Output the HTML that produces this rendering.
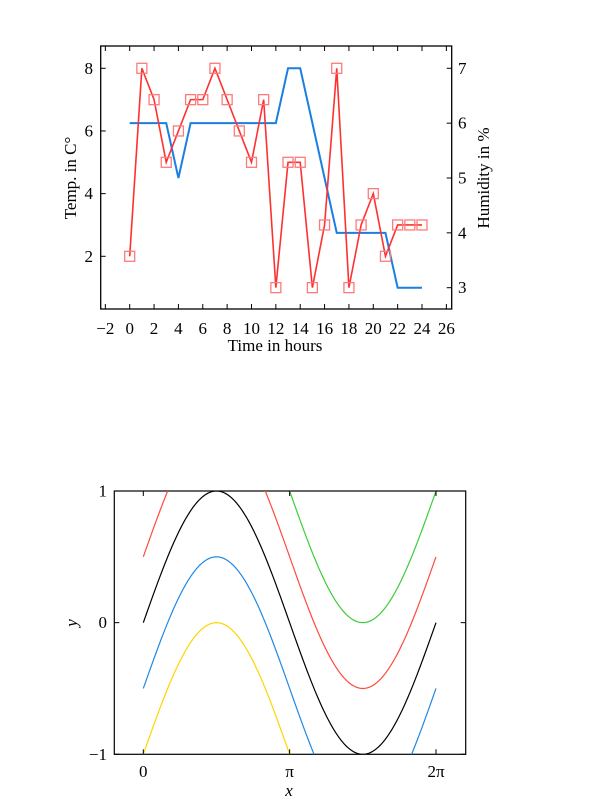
<!DOCTYPE html>
<html><head><meta charset="utf-8"><style>
html,body{margin:0;padding:0;background:#fff;overflow:hidden;width:600px;height:810px;}
svg{display:block;font-family:"Liberation Serif",serif;}
</style></head><body>
<svg id="s" width="600" height="810" viewBox="0 0 600 810">
<defs>
<clipPath id="c1"><rect x="114.3" y="491" width="351.4" height="263.3"/></clipPath>
</defs>
<g id="top"></g>
<g id="bot"></g>
</svg>
<script>
const hours = [0,1,2,3,4,5,6,7,8,9,10,11,12,13,14,15,16,17,18,19,20,21,22,23,24];
const temps = [2,8,7,5,6,7,7,8,7,6,5,7,1,5,5,1,3,8,1,3,4,2,3,3,3];
const humidity = [6,6,6,6,5,6,6,6,6,6,6,6,6,7,7,6,5,4,4,4,4,4,3,3,3];
const xTicks = [-2,0,2,4,6,8,10,12,14,16,18,20,22,24,26];
const tempTicks = [2,4,6,8];
const humTicks = [3,4,5,6,7];
const offsets = [0,0.5,-0.5,-1,1];
const offsetColors = ["#000000","#ff4a3d","#1f88e5","#ffd400","#3ccc3c"];
const yTicks2 = [-1,0,1];
const yTickLabels2 = ["\u22121","0","1"];
const xTicks2 = [0,Math.PI,2*Math.PI];
const xTickLabels2 = ["0","\u03c0","2\u03c0"];

const NS="http://www.w3.org/2000/svg";
function mk(parent,tag,attrs,text){const e=document.createElementNS(NS,tag);for(const k in attrs)e.setAttribute(k,attrs[k]);if(text!==undefined)e.textContent=text;parent.appendChild(e);return e;}

const T=document.getElementById('top');
const L=100.7,R=451.7,Tp=46,B=309;
const X=h=>129.7+(h-0)*(422-129.7)/24;
const YT=v=>68.3+(8-v)*(256.3-68.3)/6;
const YH=v=>68.3+(7-v)*(287.7-68.3)/4;
let el;
el=mk(T,'rect',{x:L,y:Tp,width:R-L,height:B-Tp,fill:'none',stroke:'#000','stroke-width':1.3});


xTicks.forEach(t=>{
  const x=X(t);
  el=mk(T,'line',{x1:x,x2:x,y1:B,y2:B-5,stroke:'#000','stroke-width':1});
  
  
  mk(T,'line',{x1:x,x2:x,y1:Tp,y2:Tp+5,stroke:'#000','stroke-width':1});
  el=mk(T,'text',{x:x,y:334,'text-anchor':'middle','font-size':17},t<0?'\u2212'+(-t):String(t));
  
  
});
tempTicks.forEach(t=>{
  const y=YT(t);
  mk(T,'line',{x1:L,x2:L+5,y1:y,y2:y,stroke:'#000'});
  el=mk(T,'text',{x:93,y:y+5.5,'text-anchor':'end','font-size':17},String(t));
  
  
});
humTicks.forEach(t=>{
  const y=YH(t);
  mk(T,'line',{x1:R-5,x2:R,y1:y,y2:y,stroke:'#000'});
  el=mk(T,'text',{x:458,y:y+5.5,'font-size':17},String(t));
  
  
});
el=mk(T,'polyline',{points:hours.map((h,i)=>X(h)+','+YH(humidity[i])).join(' '),fill:'none',stroke:'#1a7fe0','stroke-width':2});


el=mk(T,'polyline',{points:hours.map((h,i)=>X(h)+','+YT(temps[i])).join(' '),fill:'none',stroke:'#ff3030','stroke-width':1.6});


hours.forEach((h,i)=>{
  el=mk(T,'rect',{x:X(h)-5,y:YT(temps[i])-5,width:10,height:10,fill:'none',stroke:'#ff7a7a','stroke-width':1.3});
  
  
});
el=mk(T,'text',{x:275,y:351,'text-anchor':'middle','font-size':17},'Time in hours');


el=mk(T,'text',{x:0,y:0,'text-anchor':'middle','font-size':17,transform:'translate(76,178) rotate(-90)'},'Temp. in C\u00b0');


el=mk(T,'text',{x:0,y:0,'text-anchor':'middle','font-size':17,transform:'translate(489,178) rotate(-90)'},'Humidity in %');



const G=document.getElementById('bot');
const L2=114.3,R2=465.7,T2=491,B2=754.3;
const X2=v=>143.3+v*(436-143.3)/(2*Math.PI);
const Y2=v=>622.65-v*(754.3-491)/2;
el=mk(G,'rect',{x:L2,y:T2,width:R2-L2,height:B2-T2,fill:'none',stroke:'#000','stroke-width':1.2});


const cg=mk(G,'g',{'clip-path':'url(#c1)'});
offsets.forEach((o,k)=>{
  const pts=[];
  for(let i=0;i<=200;i++){const x=2*Math.PI*i/200;pts.push(X2(x)+','+Y2(Math.sin(x)+o));}
  el=mk(cg,'polyline',{points:pts.join(' '),fill:'none',stroke:offsetColors[k],'stroke-width':1.2});
  
  
});
xTicks2.forEach((t,i)=>{
  const x=X2(t);
  mk(G,'line',{x1:x,x2:x,y1:B2,y2:B2-5,stroke:'#000'});
  mk(G,'line',{x1:x,x2:x,y1:T2,y2:T2+5,stroke:'#000'});
  el=mk(G,'text',{x:x,y:777,'text-anchor':'middle','font-size':17},xTickLabels2[i]);
  
  
});
yTicks2.forEach((t,i)=>{
  const y=Y2(t);
  mk(G,'line',{x1:L2,x2:L2+5,y1:y,y2:y,stroke:'#000'});
  mk(G,'line',{x1:R2-5,x2:R2,y1:y,y2:y,stroke:'#000'});
  el=mk(G,'text',{x:107,y:y+5.5,'text-anchor':'end','font-size':17},yTickLabels2[i]);
  
  
});
el=mk(G,'text',{x:289,y:796,'text-anchor':'middle','font-size':17,'font-style':'italic'},'x');


el=mk(G,'text',{x:0,y:0,'text-anchor':'middle','font-size':17,'font-style':'italic',transform:'translate(77,623) rotate(-90)'},'y');


</script>
</body></html>
